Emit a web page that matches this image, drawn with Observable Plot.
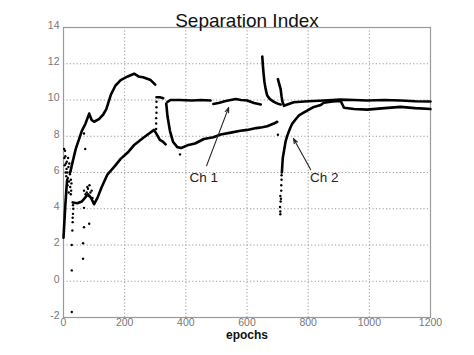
<!DOCTYPE html>
<html>
<head>
<meta charset="utf-8">
<script src="https://cdn.jsdelivr.net/npm/d3@7"></script>
<script src="https://cdn.jsdelivr.net/npm/@observablehq/plot@0.6"></script>
<style>
  html, body { margin: 0; padding: 0; background: white; }
</style>
</head>
<body>
<div id="chart"></div>
<script>
// ---- data (epoch, value) ----
const title = "Separation Index";
const xLabel = "epochs";
const xTicks = [0, 200, 400, 600, 800, 1000, 1200];
const yTicks = [-2, 0, 2, 4, 6, 8, 10, 12, 14];

const startColumn = [[0,2.4],[2,3.0],[4,3.6],[6,4.2],[8,4.7],[10,5.2],[12,5.6]];
const upperEarly = [[22,6.0],[30,6.6],[40,7.3],[50,7.8],[60,8.3],[72,8.7],[84,9.25],[92,8.9],[100,8.8],[116,8.95],[130,9.2],[140,9.5],[155,10.3],[170,10.8],[187,11.1],[210,11.3],[231,11.45],[245,11.3],[260,11.25],[285,11.1],[300,10.85]];
const lowerEarly = [[30,4.35],[45,4.3],[60,4.4],[70,4.6],[80,4.8],[90,4.6],[100,4.25],[111,4.6],[125,5.2],[144,5.9],[165,6.3],[187,6.75],[210,7.1],[230,7.5],[260,7.9],[280,8.15],[296,8.35],[305,8.1],[315,7.8],[325,7.7],[334,7.55]];
const level10a = [[304,10.15],[315,10.15],[326,10.1]];
const lowerMid = [[336,9.8],[340,9.1],[348,8.3],[358,7.7],[372,7.4],[385,7.35],[405,7.5],[430,7.6],[459,7.85],[490,7.95],[514,8.1],[547,8.2],[579,8.3],[601,8.35],[630,8.45],[650,8.5],[666,8.55],[688,8.7],[699,8.8]];
const level10b = [[340,9.9],[350,10.0],[380,10.0],[420,9.97],[450,10.0],[481,9.97]];
const level10c = [[490,9.78],[510,9.85],[530,9.95],[547,10.0],[563,10.05],[580,10.0],[601,9.97],[623,9.84],[645,9.75]];
const spike1 = [[650,12.4],[652,11.9],[654,11.5],[657,11.0],[661,10.6],[666,10.25],[675,10.05],[688,9.9],[700,9.8],[710,9.75]];
const spike2 = [[701,11.15],[705,10.9],[710,10.6],[713,10.2],[716,9.9],[721,9.68],[732,9.75],[753,9.88],[800,9.93],[851,9.97],[906,10.02],[950,10.0],[993,9.97],[1050,10.0],[1102,9.97],[1150,9.93],[1200,9.92]];
const ch2Rise = [[714,6.0],[717,6.8],[721,7.2],[726,7.7],[732,8.05],[740,8.4],[748,8.7],[760,8.95],[770,9.15],[785,9.3],[797,9.42],[819,9.62],[841,9.72],[851,9.85],[880,9.92],[906,9.95],[912,9.75],[917,9.57],[950,9.5],[993,9.47],[1050,9.55],[1102,9.62],[1150,9.55],[1200,9.5]];

const scatterPts = [
  [2,7.3],[5,7.2],[6,6.9],[8,6.5],[10,6.2],[12,6.0],[14,5.7],[16,6.3],[18,5.5],[20,6.0],[22,5.2],
  [24,5.6],[9,5.8],[11,6.6],[15,6.8],[19,6.5],[21,5.9],[4,6.4],[7,6.0],[13,5.3],[25,5.0],[17,4.9],
  [26,5.4],[24,4.8],[3,6.8],
  [27,-1.7],[27,0.6],[27,2.0],[29,2.8],[30,3.26],[30,3.5],[31,3.72],[32,4.0],[31,4.2],
  [64,1.24],[64,2.1],[67,2.98],[84,3.17],[67,4.05],
  [67,5.0],[72,4.8],[76,4.9],[80,5.1],[85,5.3],[88,4.9],[92,5.0],[83,4.7],[95,4.6],[78,5.2],
  [67,8.15],[71,7.3],
  [303,8.4],[303,8.7],[303,9.0],[304,9.3],[304,9.6],[304,9.9],
  [381,7.0],[701,8.08],
  [709,3.7],[709,3.85],[708,4.1],[710,4.4],[711,4.55],[709,4.7],[712,5.0],[712,5.3],[713,5.6],[713,5.85]
];

const labels = ["Ch 1", "Ch 2"];
const labelX = [459, 853];
const labelY = [5.72, 5.72];
const arrowFrom = [[468,6.38],[808,6.16]];
const arrowTo = [[540,9.58],[752,7.87]];

// ---- build tables ----
const segments = {startColumn, upperEarly, lowerEarly, level10a, lowerMid, level10b, level10c, spike1, spike2, ch2Rise};
const lineData = Object.entries(segments).flatMap(([seg, pts]) => pts.map(([e, v]) => ({seg, e, v})));
const dotData = scatterPts.map(([e, v]) => ({e, v}));
const labelData = labels.map((t, i) => ({t, x: labelX[i], y: labelY[i]}));
const arrowData = arrowFrom.map((f, i) => ({x1: f[0], y1: f[1], x2: arrowTo[i][0], y2: arrowTo[i][1]}));

const fmt = d => String(d);

const chart = Plot.plot({
  width: 474,
  height: 355,
  marginLeft: 63,
  marginRight: 44,
  marginTop: 27,
  marginBottom: 38,
  style: {fontFamily: "'Liberation Sans', Arial, sans-serif", background: "white", overflow: "visible"},
  x: {domain: [0, 1200]},
  y: {domain: [-2, 14]},
  marks: [
    Plot.gridX(xTicks.filter(d => d > 0 && d < 1200), {stroke: "#9a9a9a", strokeOpacity: 1, strokeDasharray: "1.2,2.2"}),
    Plot.gridY(yTicks.filter(d => d > -2 && d < 14), {stroke: "#9a9a9a", strokeOpacity: 1, strokeDasharray: "1.2,2.2"}),
    Plot.frame({stroke: "#9a9a9a", strokeWidth: 1.2}),
    Plot.axisX({ticks: xTicks, tickFormat: fmt, tickSize: 0, tickPadding: 1, fill: "#777", fontSize: 10.5, label: null}),
    Plot.axisY({ticks: yTicks, tickFormat: fmt, tickSize: 0, tickPadding: 4, fill: "#777", fontSize: 10.5, label: null, dy: -2}),
    Plot.line(lineData, {x: "e", y: "v", z: "seg", stroke: "black", strokeWidth: 2.6, strokeLinejoin: "round"}),
    Plot.dot(dotData, {x: "e", y: "v", r: 1.2, fill: "black", stroke: null}),
    Plot.arrow(arrowData, {x1: "x1", y1: "y1", x2: "x2", y2: "y2", stroke: "#222", strokeWidth: 1.1, headLength: 7, headAngle: 40}),
    Plot.text(labelData, {x: "x", y: "y", text: "t", fontSize: 13.5, fill: "#222"}),
    Plot.text([title], {frameAnchor: "top", dy: -14, fontSize: 19, fill: "#111"}),
    Plot.text([xLabel], {frameAnchor: "bottom", dy: 21, fontSize: 12, fontWeight: "bold", fill: "#111"})
  ]
});
document.getElementById("chart").appendChild(chart);
</script>
</body>
</html>
